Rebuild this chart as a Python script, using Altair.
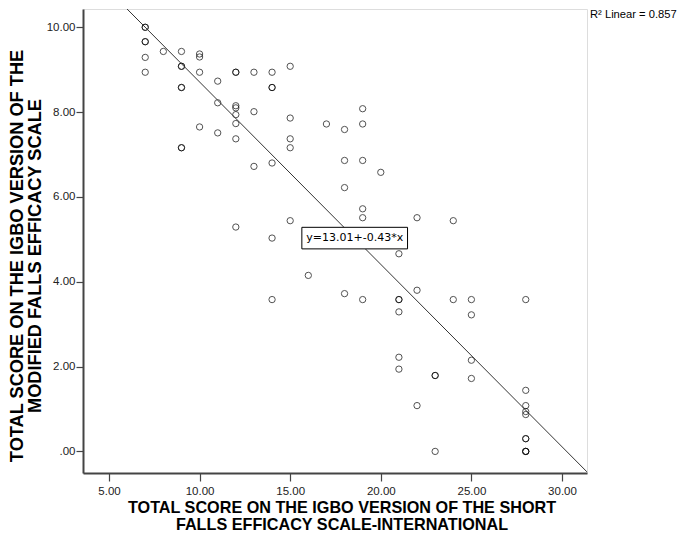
import altair as alt
import pandas as pd

# Scatter values (x = SFES-I score, y = MFES score)
sfes_x = [7, 7, 7, 7, 7, 7,
          8,
          9, 9, 9, 9, 9, 9, 9,
          10, 10, 10, 10,
          11, 11, 11,
          12, 12, 12, 12, 12, 12, 12, 12,
          13, 13, 13,
          14, 14, 14, 14, 14, 14,
          15, 15, 15, 15, 15,
          16,
          17,
          18, 18, 18, 18,
          19, 19, 19, 19, 19, 19,
          20,
          21, 21, 21, 21, 21, 21,
          22, 22, 22,
          23, 23, 23,
          24, 24,
          25, 25, 25, 25,
          28, 28, 28, 28, 28, 28, 28, 28, 28, 28]
mfes_y = [10.0, 10.0, 9.66, 9.66, 9.29, 8.94,
          9.43,
          9.43, 9.08, 9.08, 8.58, 8.58, 7.16, 7.16,
          9.37, 9.30, 8.94, 7.65,
          8.73, 8.22, 7.51,
          8.94, 8.94, 8.15, 8.10, 7.94, 7.73, 7.37, 5.29,
          8.94, 8.01, 6.72,
          8.94, 8.58, 8.58, 6.80, 5.03, 3.58,
          9.08, 7.86, 7.37, 7.16, 5.44,
          4.15,
          7.72,
          7.59, 6.86, 6.22, 3.72,
          8.08, 7.72, 6.86, 5.72, 5.51, 3.58,
          6.58,
          4.66, 3.58, 3.58, 3.29, 2.22, 1.94,
          5.51, 3.80, 1.08,
          1.79, 1.79, 0.0,
          5.44, 3.58,
          3.58, 3.22, 2.15, 1.72,
          3.58, 1.44, 1.08, 0.94, 0.87, 0.30, 0.30, 0.0, 0.0, 0.0]

# Fit reported on the chart
fit_intercept = 13.01
fit_slope = -0.43
fit_r2 = 0.857
fit_label_x = 18.56

x_ticks = [5, 10, 15, 20, 25, 30]
y_ticks = [0, 2, 4, 6, 8, 10]
x_domain = [3.566, 31.38]
y_domain = [-0.509, 10.431]

x_title = ["TOTAL SCORE ON THE IGBO VERSION OF THE SHORT",
           "FALLS EFFICACY SCALE-INTERNATIONAL"]
y_title = ["TOTAL SCORE ON THE IGBO VERSION OF THE",
           "MODIFIED FALLS EFFICACY SCALE"]

pts = pd.DataFrame({"x": sfes_x, "y": mfes_y})
line_df = pd.DataFrame({"x": x_domain})
label_df = pd.DataFrame({"x": [fit_label_x],
                         "txt": [f"y={fit_intercept:.2f}+{fit_slope:.2f}*x"]})
r2_df = pd.DataFrame({"txt": [f"R\u00b2 Linear = {fit_r2:.3f}"]})

W, H = 504, 464

xs = alt.Scale(domain=x_domain, nice=False, zero=False)
ys = alt.Scale(domain=y_domain, nice=False, zero=False)

x_axis = alt.Axis(values=x_ticks, format=".2f", title=x_title, grid=False,
                  tickSize=8, labelPadding=4, labelFont="Liberation Sans",
                  labelFontSize=11.5, labelColor="#222",
                  titleFont="Liberation Sans", titleFontSize=16.2,
                  titleFontWeight="bold", titleColor="#000",
                  titleLineHeight=17, titleX=258.5, titleY=39,
                  titleAlign="center", titleBaseline="alphabetic",
                  domainColor="#444", domainWidth=2, tickColor="#444",
                  tickWidth=1.2, labelFlush=False)
y_axis = alt.Axis(values=y_ticks, title=y_title, grid=False,
                  labelExpr="datum.value == 0 ? '.00' : format(datum.value, '.2f')",
                  tickSize=7, labelPadding=1, labelFont="Liberation Sans",
                  labelFontSize=11.5, labelColor="#222",
                  titleFont="Liberation Sans", titleFontSize=18.2,
                  titleFontWeight="bold", titleColor="#000",
                  titleLineHeight=18.3, titleX=-60.3, titleY=246.5,
                  titleAngle=270, titleAlign="center", titleBaseline="alphabetic",
                  domainColor="#444", domainWidth=2, tickColor="#444",
                  tickWidth=1.2, labelFlush=False)

points = alt.Chart(pts).mark_point(
    shape="circle", size=40, strokeWidth=1, color="black",
    opacity=0.68, filled=False
).encode(
    x=alt.X("x:Q", scale=xs, axis=x_axis),
    y=alt.Y("y:Q", scale=ys, axis=y_axis),
)

fit_line = alt.Chart(line_df).transform_calculate(
    y=f"{fit_intercept} + ({fit_slope}) * datum.x"
).mark_line(color="#333", strokeWidth=1, clip=True).encode(
    x=alt.X("x:Q", scale=xs),
    y=alt.Y("y:Q", scale=ys),
)

box = alt.Chart(label_df).transform_calculate(
    y=f"{fit_intercept} + ({fit_slope}) * datum.x"
).mark_point(
    shape="M-1,-0.204L1,-0.204L1,0.204L-1,0.204Z", size=11172,
    filled=True, fill="white", stroke="black", strokeWidth=1, opacity=1
).encode(
    x=alt.X("x:Q", scale=xs),
    y=alt.Y("y:Q", scale=ys),
)

box_text = alt.Chart(label_df).transform_calculate(
    y=f"{fit_intercept} + ({fit_slope}) * datum.x"
).mark_text(
    font="DejaVu Sans", fontSize=11, color="black", align="center",
    baseline="middle"
).encode(
    x=alt.X("x:Q", scale=xs),
    y=alt.Y("y:Q", scale=ys),
    text="txt:N",
)

r2_text = alt.Chart(r2_df).mark_text(
    font="Liberation Sans", fontSize=11.2, color="black", align="left",
    baseline="middle"
).encode(
    x=alt.value(W + 3),
    y=alt.value(6),
    text="txt:N",
)

chart = alt.layer(points, fit_line, box, box_text, r2_text).properties(
    width=W, height=H,
    autosize=alt.AutoSizeParams(type="none"),
    padding={"left": 75, "top": 1, "right": 90, "bottom": 61},
).configure_view(
    fill="#F0F0F0", stroke="#8a8a8a", strokeWidth=2
).configure(background="white")

chart.save("out.html", embed_options={"renderer": "svg", "actions": False})
